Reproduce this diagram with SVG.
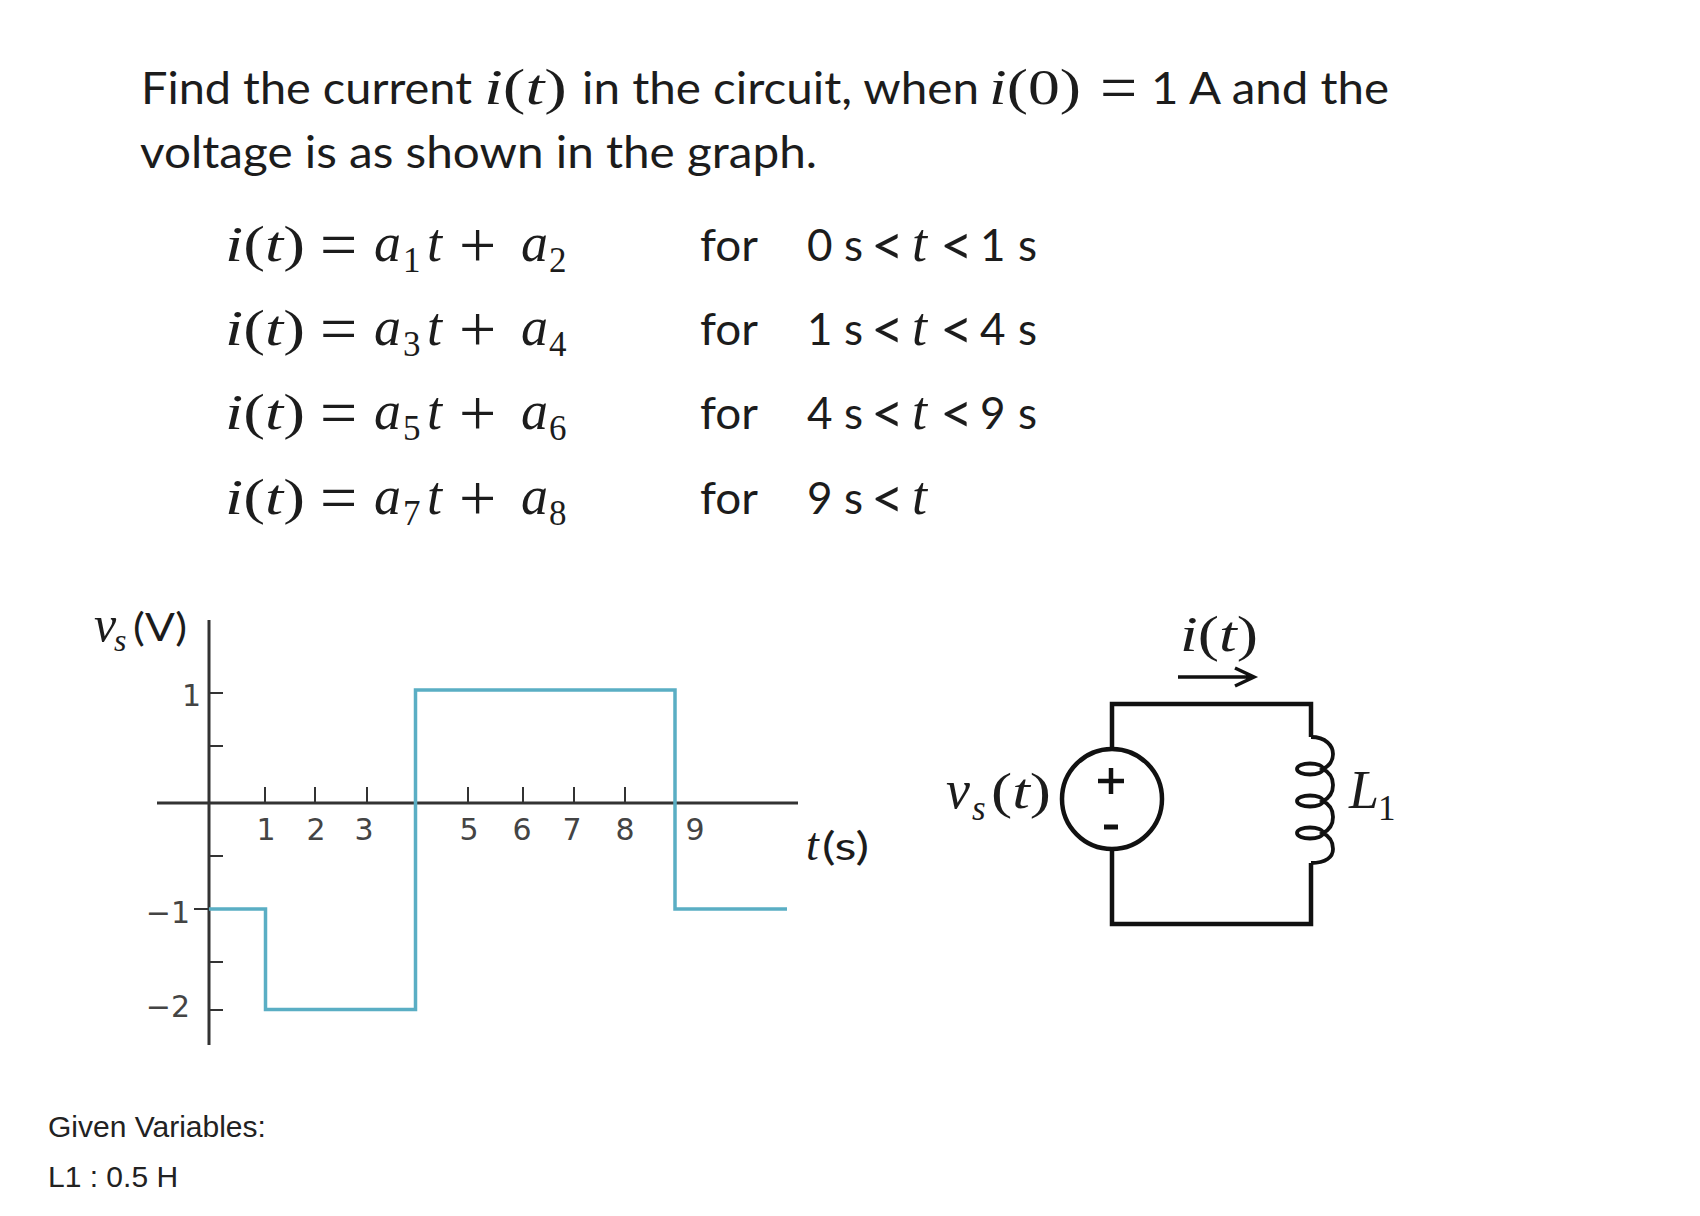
<svg xmlns="http://www.w3.org/2000/svg" width="1700" height="1216" viewBox="0 0 1700 1216">
<style>
.b{font-family:"Lato","Noto Sans",sans-serif;font-size:44px;fill:#1c1c1c}
.l{font-family:"Lato","Noto Sans",sans-serif;font-size:57px;fill:#1c1c1c}
.m{font-family:"Liberation Serif","DejaVu Serif",serif;font-size:50px;fill:#1c1c1c}
.e{font-family:"Liberation Serif","DejaVu Serif",serif;font-size:66px;fill:#1c1c1c}
.v{font-family:"Liberation Serif","DejaVu Serif",serif;font-size:54px;font-style:italic;fill:#1c1c1c}
.i{font-style:italic}
.s{font-family:"Liberation Serif","DejaVu Serif",serif;font-size:35px;fill:#1c1c1c}
.n{font-family:"DejaVu Sans",sans-serif;font-size:30px;fill:#444}
.g{font-family:"Liberation Sans",Arial,sans-serif;font-size:30px;fill:#222}
.ax{stroke:#333;stroke-width:3;fill:none}
.tk{stroke:#333;stroke-width:2;fill:none}
.sig{stroke:#5aaec4;stroke-width:3.5;fill:none;stroke-linejoin:miter}
.w{stroke:#111;stroke-width:4.5;fill:none}
.c{stroke:#111;stroke-width:3.8;fill:none}
</style>
<rect width="1700" height="1216" fill="#fff"/>
<g id="problem">
<text class="b" x="141" y="104" textLength="331" lengthAdjust="spacingAndGlyphs">Find the current</text>
<text class="m" x="484" y="104" textLength="83" lengthAdjust="spacingAndGlyphs"><tspan class="i">i</tspan>(<tspan class="i">t</tspan>)</text>
<text class="b" x="582" y="104" textLength="397" lengthAdjust="spacingAndGlyphs">in the circuit, when</text>
<text class="m" x="989" y="104" textLength="92" lengthAdjust="spacingAndGlyphs"><tspan class="i">i</tspan>(0)</text>
<text class="e" x="1100" y="110">=</text>
<text class="b" x="1151" y="104" textLength="238" lengthAdjust="spacingAndGlyphs">1 A and the</text>
<text class="b" x="140" y="168" textLength="677" lengthAdjust="spacingAndGlyphs">voltage is as shown in the graph.</text>
</g>
<g id="equations">
<g id="row1">
<text class="m" x="225" y="261" textLength="80" lengthAdjust="spacingAndGlyphs"><tspan class="i">i</tspan>(<tspan class="i">t</tspan>)</text><text class="e" x="320" y="267">=</text>
<text class="v" x="374" y="261">a</text><text class="s" x="403" y="272">1</text><text class="v" x="427" y="261">t</text><text class="e" x="459" y="267">+</text>
<text class="v" x="521" y="261">a</text><text class="s" x="549" y="272">2</text>
<text class="b" x="700" y="261" textLength="58" lengthAdjust="spacingAndGlyphs">for</text>
<text class="b" x="807" y="261">0</text><text class="b" x="844" y="261">s</text><text class="l" x="871" y="265">&lt;</text><text class="v" x="912" y="261">t</text><text class="l" x="940" y="265">&lt;</text><text class="b" x="980" y="261">1</text><text class="b" x="1018" y="261">s</text>
</g>
<g id="row2">
<text class="m" x="225" y="345" textLength="80" lengthAdjust="spacingAndGlyphs"><tspan class="i">i</tspan>(<tspan class="i">t</tspan>)</text><text class="e" x="320" y="351">=</text>
<text class="v" x="374" y="345">a</text><text class="s" x="403" y="356">3</text><text class="v" x="427" y="345">t</text><text class="e" x="459" y="351">+</text>
<text class="v" x="521" y="345">a</text><text class="s" x="549" y="356">4</text>
<text class="b" x="700" y="345" textLength="58" lengthAdjust="spacingAndGlyphs">for</text>
<text class="b" x="807" y="345">1</text><text class="b" x="844" y="345">s</text><text class="l" x="871" y="349">&lt;</text><text class="v" x="912" y="345">t</text><text class="l" x="940" y="349">&lt;</text><text class="b" x="980" y="345">4</text><text class="b" x="1018" y="345">s</text>
</g>
<g id="row3">
<text class="m" x="225" y="429" textLength="80" lengthAdjust="spacingAndGlyphs"><tspan class="i">i</tspan>(<tspan class="i">t</tspan>)</text><text class="e" x="320" y="435">=</text>
<text class="v" x="374" y="429">a</text><text class="s" x="403" y="440">5</text><text class="v" x="427" y="429">t</text><text class="e" x="459" y="435">+</text>
<text class="v" x="521" y="429">a</text><text class="s" x="549" y="440">6</text>
<text class="b" x="700" y="429" textLength="58" lengthAdjust="spacingAndGlyphs">for</text>
<text class="b" x="807" y="429">4</text><text class="b" x="844" y="429">s</text><text class="l" x="871" y="433">&lt;</text><text class="v" x="912" y="429">t</text><text class="l" x="940" y="433">&lt;</text><text class="b" x="980" y="429">9</text><text class="b" x="1018" y="429">s</text>
</g>
<g id="row4">
<text class="m" x="225" y="514" textLength="80" lengthAdjust="spacingAndGlyphs"><tspan class="i">i</tspan>(<tspan class="i">t</tspan>)</text><text class="e" x="320" y="520">=</text>
<text class="v" x="374" y="514">a</text><text class="s" x="403" y="525">7</text><text class="v" x="427" y="514">t</text><text class="e" x="459" y="520">+</text>
<text class="v" x="521" y="514">a</text><text class="s" x="549" y="525">8</text>
<text class="b" x="700" y="514" textLength="58" lengthAdjust="spacingAndGlyphs">for</text>
<text class="b" x="807" y="514">9</text><text class="b" x="844" y="514">s</text><text class="l" x="871" y="518">&lt;</text><text class="v" x="912" y="514">t</text>
</g>
</g>
<g id="graph">
<path class="ax" d="M209 620V1045M157 803H798"/>
<path class="tk" d="M209 693H223M209 746H223M209 856H223M194 909H209M209 962H223M209 1010H223M265 787V803M315 787V803M367 787V803M468 787V803M523 787V803M574 787V803M625 787V803"/>
<path class="sig" d="M209 909H265.5V1009.5H415.5V690H675V909H787"/>
<g class="n" text-anchor="middle">
<text x="266" y="840">1</text><text x="316" y="840">2</text><text x="364" y="840">3</text><text x="469" y="840">5</text><text x="522" y="840">6</text><text x="572" y="840">7</text><text x="625" y="840">8</text><text x="695" y="840">9</text>
</g>
<g class="n" text-anchor="end">
<text x="201" y="706">1</text><text x="190" y="923">−1</text><text x="190" y="1017">−2</text>
</g>
<text class="v" x="94" y="641" style="font-size:50px">v</text><text class="s i" x="114" y="651" style="font-size:32px">s</text><text class="b" x="133" y="641" style="font-size:38px" textLength="54" lengthAdjust="spacingAndGlyphs">(V)</text>
<text class="v" x="806" y="860" style="font-size:46px">t</text><text class="b" x="822" y="860" style="font-size:38px" textLength="47" lengthAdjust="spacingAndGlyphs">(s)</text>
</g>
<g id="given">
<text class="g" x="48" y="1137">Given Variables:</text>
<text class="g" x="48" y="1187">L1 : 0.5 H</text>
</g>
<g id="connectors">
<path class="w" d="M1112 749V704H1311V737M1311 863V924H1112V849"/>
<path d="M1178 677H1253M1235 668L1254 677L1235 686" stroke="#111" stroke-width="3.5" fill="none"/>
</g>
<g id="source">
<circle class="w" cx="1112" cy="799" r="50"/>
<path d="M1098 781H1124M1111 768V794" stroke="#111" stroke-width="4.5" fill="none"/>
<path d="M1104 827H1118" stroke="#111" stroke-width="5" fill="none"/>
<text class="v" x="946" y="808">v</text><text class="s i" x="972" y="820">s</text><text class="m" x="991" y="808" textLength="60" lengthAdjust="spacingAndGlyphs">(<tspan class="i">t</tspan>)</text>
</g>
<g id="inductor">
<path class="c" d="M1311 737C1326 737 1333 746 1333 754C1333 761 1329 766 1323 769C1329 772 1333 778 1333 785C1333 792 1329 798 1323 801C1329 804 1333 810 1333 817C1333 824 1329 830 1323 833C1329 836 1333 842 1333 849C1333 857 1326 863 1311 863"/>
<ellipse class="c" cx="1310" cy="769" rx="13" ry="5.5"/>
<ellipse class="c" cx="1310" cy="801" rx="13" ry="5.5"/>
<ellipse class="c" cx="1310" cy="833" rx="13" ry="5.5"/>
<text class="v" x="1349" y="808">L</text><text class="s" x="1378" y="820">1</text>
</g>
<g id="current">
<text class="m" x="1180" y="651" textLength="78" lengthAdjust="spacingAndGlyphs"><tspan class="i">i</tspan>(<tspan class="i">t</tspan>)</text>
</g>
</svg>
